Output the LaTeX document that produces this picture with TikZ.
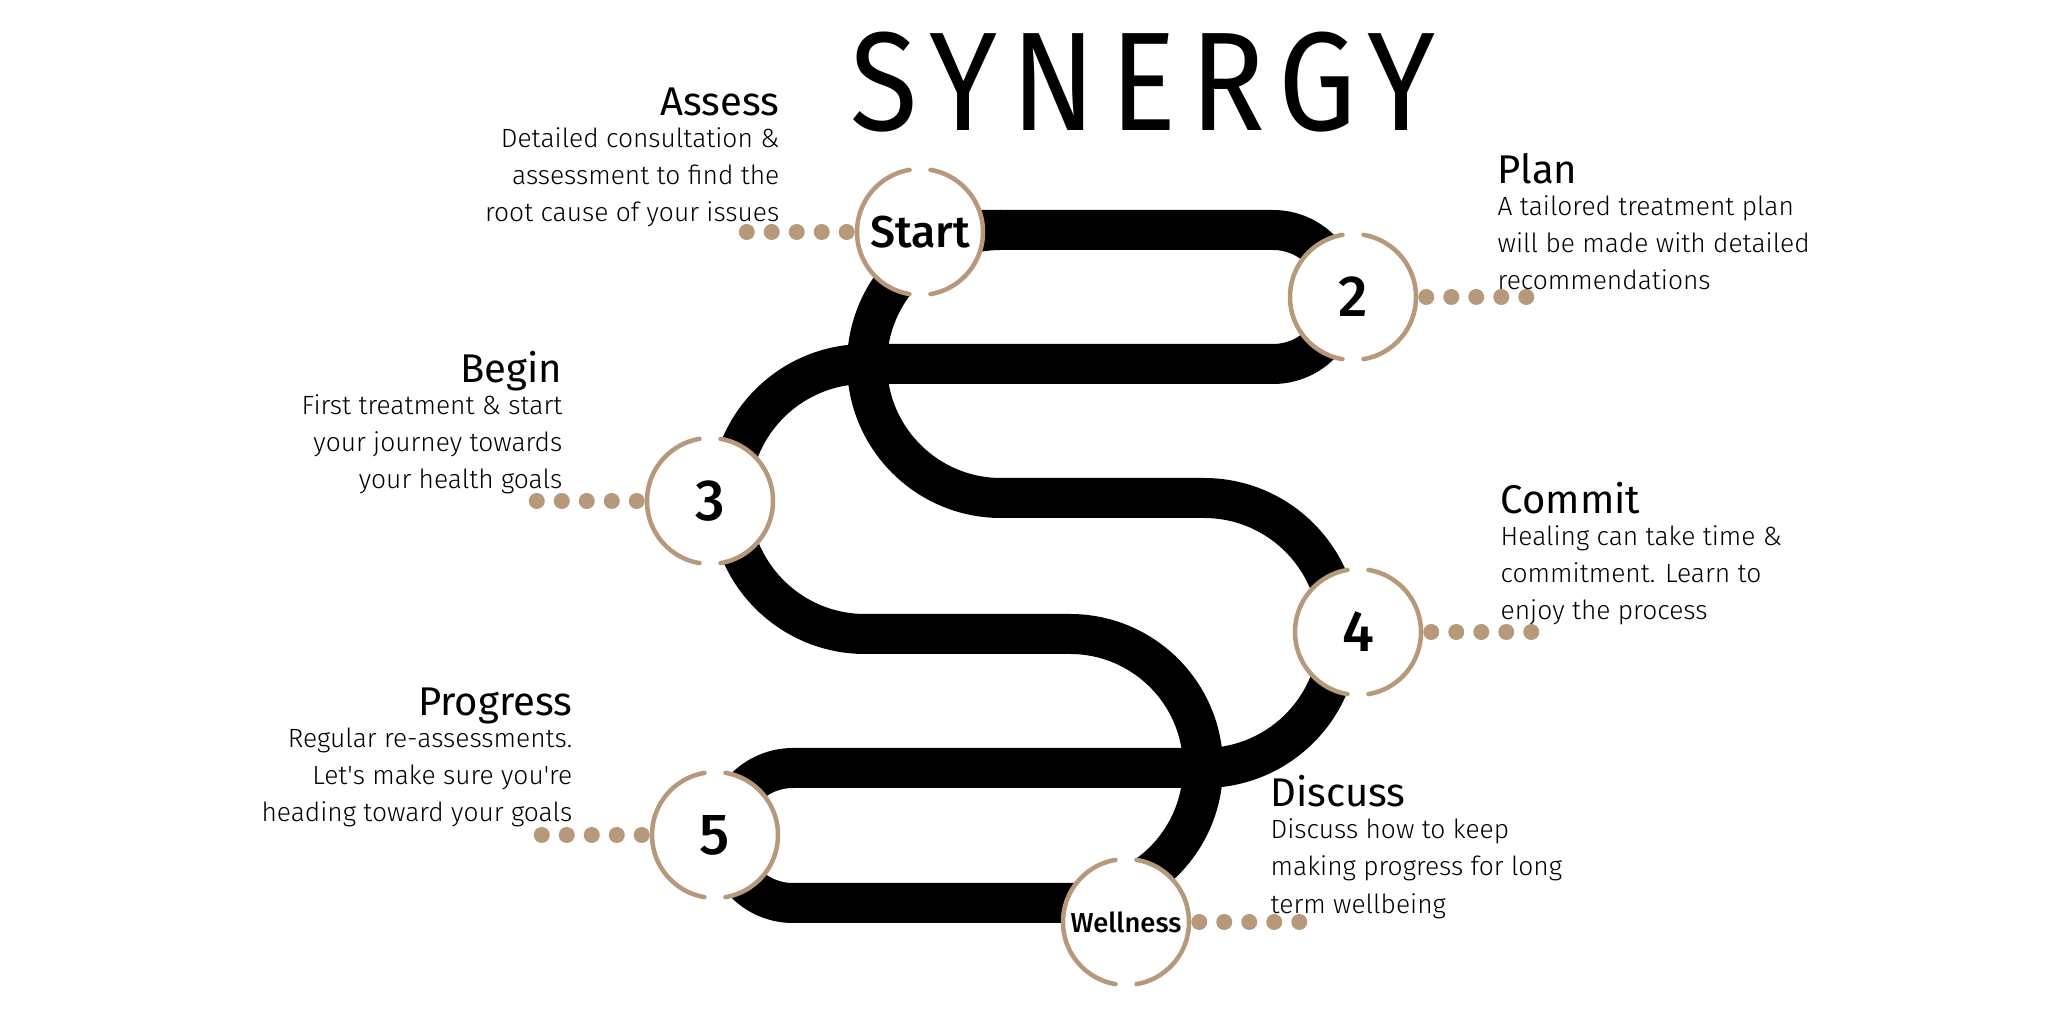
\documentclass[tikz,border=0pt]{standalone}
\usepackage{fontspec}
\setmainfont{Fira Sans Light}
\newfontfamily\headfont{Fira Sans}
\newfontfamily\titlefont{Fira Sans}[FakeStretch=0.88, LetterSpace=10]
\newfontfamily\labelfont{Fira Sans Medium}
\usetikzlibrary{calc}
\definecolor{sand}{RGB}{181,153,122}

\tikzset{
  track/.style={line width=4mm, black},
  stop/.style={circle, fill=white, draw=sand, line width=0.45mm, line cap=round,
    minimum size=12.6mm, inner sep=0pt,
    dash pattern=on 25.16pt off 6pt on 50.31pt off 6pt,
    font=\labelfont\fontsize{16.5}{18}\selectfont},
  beads/.style={draw=sand, line width=1.6mm, line cap=round, dash pattern=on 0pt off 2.5mm},
  head/.style={font=\headfont\fontsize{11.4}{13}\selectfont, inner sep=0pt},
  body/.style={font=\fontsize{7.5}{9}\selectfont, inner sep=0pt},
}

\begin{document}
\begin{tikzpicture}[x=0.1mm, y=0.1mm]
    \fill[white] (0,0) rectangle (2062,1018);
    \useasboundingbox (0,0) rectangle (2062,1018);

    % 路线
    \draw[track] (920,788) -- (1273,788) arc[start angle=90, end angle=-90, radius=67]
        -- (865,654) arc[start angle=90, end angle=270, radius=135]
        -- (1070,384) arc[start angle=90, end angle=-65, radius=133];
    \draw[track] (1001,788) arc[start angle=90, end angle=270, radius=134]
        -- (1204,520) arc[start angle=90, end angle=-90, radius=135]
        -- (793,250) arc[start angle=90, end angle=270, radius=67.5]
        -- (1126,115);

    % 站点
    \node[stop, font=\labelfont\fontsize{12.7}{14}\selectfont] (start) at (920,786) {Start};
    \node[stop] (n2) at (1353,721) {2};
    \node[stop] (n3) at (710,517) {3};
    \node[stop] (n4) at (1358,386) {4};
    \node[stop] (n5) at (715,183) {5};
    \node[stop, font=\labelfont\fontsize{7.8}{9}\selectfont] (wellness) at (1126,96) {Wellness};

    \foreach \n/\a/\d in {start/west/-1, n3/west/-1, n5/west/-1, n2/east/1, n4/east/1, wellness/east/1}
        \draw[beads] ([xshift=\d*0.8mm]\n.\a) -- ++(\d*101,0);

    % 标题
    \node[font=\titlefont\fontsize{40}{40}\selectfont, anchor=base] (title) at (1143,887) {SYNERGY};

    % 说明
    \node[head, anchor=base east] (assess) at (780,902) {Assess};
    \foreach \t [count=\i] in {Detailed consultation \&, assessment to find the, root cause of your issues}
        \node[body, anchor=base east] (assess-\i) at (780,907-37*\i) {\t};

    \node[head, anchor=base west] (plan) at (1497,834) {Plan};
    \foreach \t [count=\i] in {A tailored treatment plan, will be made with detailed, recommendations}
        \node[body, anchor=base west] (plan-\i) at (1497,839-37*\i) {\t};

    \node[head, anchor=base east] (begin) at (563,635) {Begin};
    \foreach \t [count=\i] in {First treatment \& start, your journey towards, your health goals}
        \node[body, anchor=base east] (begin-\i) at (563,640-37*\i) {\t};

    \node[head, anchor=base west] (commit) at (1500,504) {Commit};
    \foreach \t [count=\i] in {Healing can take time \&, commitment. Learn to, enjoy the process}
        \node[body, anchor=base west] (commit-\i) at (1500,509-37*\i) {\t};

    \node[head, anchor=base east] (progress) at (573,302) {Progress};
    \foreach \t [count=\i] in {Regular re-assessments., Let\textquotesingle s make sure you\textquotesingle re, heading toward your goals}
        \node[body, anchor=base east] (progress-\i) at (573,307-37*\i) {\t};

    \node[head, anchor=base west] (discuss) at (1270,211) {Discuss};
    \foreach \t [count=\i] in {Discuss how to keep, making progress for long, term wellbeing}
        \node[body, anchor=base west] (discuss-\i) at (1270,216-37*\i) {\t};
\end{tikzpicture}
\end{document}
